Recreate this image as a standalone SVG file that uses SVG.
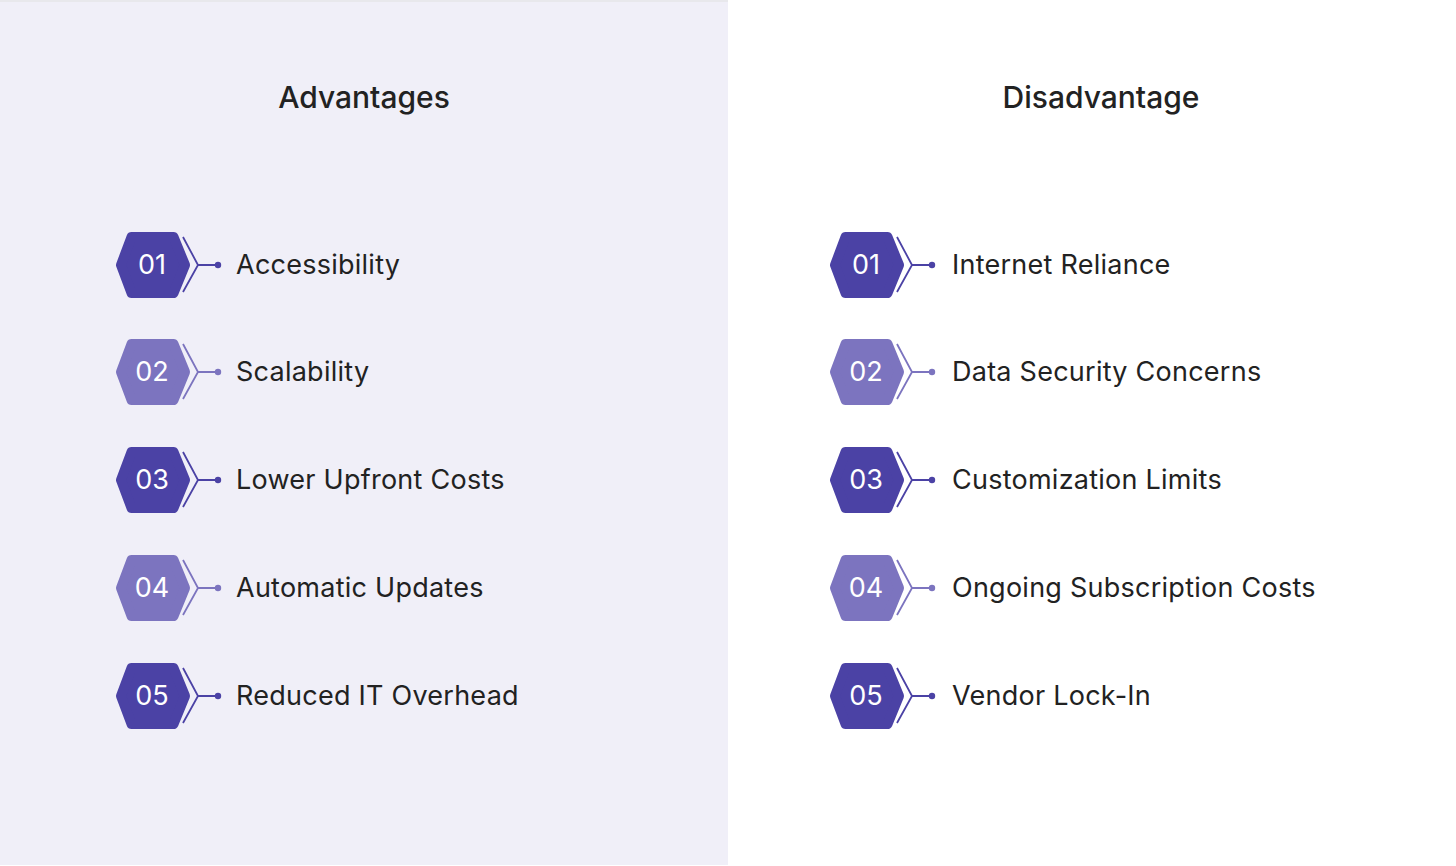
<svg xmlns="http://www.w3.org/2000/svg" width="1456" height="866" viewBox="0 0 1456 866">
<defs>
<style>
.title{font-family:Inter,"Open Sans","Liberation Sans",sans-serif;font-size:30px;font-weight:500;fill:#222;text-anchor:middle}
.lbl{font-family:Inter,"Open Sans","Liberation Sans",sans-serif;font-size:27px;letter-spacing:0.25px;fill:#222}
.num{font-family:Inter,"Open Sans","Liberation Sans",sans-serif;font-size:27px;fill:#fff;text-anchor:middle}
.dk{fill:#4b42a5;stroke:#4b42a5}
.lt{fill:#7c74bf;stroke:#7c74bf}
.hex{stroke-width:10;stroke-linejoin:round}
.chev{fill:none;stroke-width:1.8}
.sd{stroke:#4b42a5}
.sl{stroke:#7c74bf}
</style>
<path id="hx" d="M-32,0 L-21.5,-28 L20.5,-28 L32,0 L20.5,28 L-21.5,28 Z"/>
</defs>
<rect x="0" y="0" width="1456" height="866" fill="#ffffff"/>
<rect x="0" y="2" width="728" height="863" fill="#f0eff8"/>
<rect x="0" y="0" width="728" height="2" fill="#e8e8ec"/>
<text class="title" x="364" y="108">Advantages</text>
<text class="title" x="1101" y="108">Disadvantage</text>

<g id="connectors">
<g class="sd"><path class="chev" d="M183,237 L198,265 L183,292 M198,265 L218,265"/><circle cx="218" cy="265" r="3.2" fill="#4b42a5" stroke="none"/></g>
<g class="sl"><path class="chev" d="M183,344 L198,372 L183,399 M198,372 L218,372"/><circle cx="218" cy="372" r="3.2" fill="#7c74bf" stroke="none"/></g>
<g class="sd"><path class="chev" d="M183,452 L198,480 L183,507 M198,480 L218,480"/><circle cx="218" cy="480" r="3.2" fill="#4b42a5" stroke="none"/></g>
<g class="sl"><path class="chev" d="M183,560 L198,588 L183,615 M198,588 L218,588"/><circle cx="218" cy="588" r="3.2" fill="#7c74bf" stroke="none"/></g>
<g class="sd"><path class="chev" d="M183,668 L198,696 L183,723 M198,696 L218,696"/><circle cx="218" cy="696" r="3.2" fill="#4b42a5" stroke="none"/></g>

<g class="sd"><path class="chev" d="M897,237 L912,265 L897,292 M912,265 L932,265"/><circle cx="932" cy="265" r="3.2" fill="#4b42a5" stroke="none"/></g>
<g class="sl"><path class="chev" d="M897,344 L912,372 L897,399 M912,372 L932,372"/><circle cx="932" cy="372" r="3.2" fill="#7c74bf" stroke="none"/></g>
<g class="sd"><path class="chev" d="M897,452 L912,480 L897,507 M912,480 L932,480"/><circle cx="932" cy="480" r="3.2" fill="#4b42a5" stroke="none"/></g>
<g class="sl"><path class="chev" d="M897,560 L912,588 L897,615 M912,588 L932,588"/><circle cx="932" cy="588" r="3.2" fill="#7c74bf" stroke="none"/></g>
<g class="sd"><path class="chev" d="M897,668 L912,696 L897,723 M912,696 L932,696"/><circle cx="932" cy="696" r="3.2" fill="#4b42a5" stroke="none"/></g>
</g>

<g id="adv-01"><use href="#hx" class="hex dk" x="153" y="265"/><text class="num" x="152" y="274">01</text><text class="lbl" x="236" y="274">Accessibility</text></g>
<g id="adv-02"><use href="#hx" class="hex lt" x="153" y="372"/><text class="num" x="152" y="381">02</text><text class="lbl" x="236" y="381">Scalability</text></g>
<g id="adv-03"><use href="#hx" class="hex dk" x="153" y="480"/><text class="num" x="152" y="489">03</text><text class="lbl" x="236" y="489">Lower Upfront Costs</text></g>
<g id="adv-04"><use href="#hx" class="hex lt" x="153" y="588"/><text class="num" x="152" y="597">04</text><text class="lbl" x="236" y="597">Automatic Updates</text></g>
<g id="adv-05"><use href="#hx" class="hex dk" x="153" y="696"/><text class="num" x="152" y="705">05</text><text class="lbl" x="236" y="705">Reduced IT Overhead</text></g>

<g id="dis-01"><use href="#hx" class="hex dk" x="867" y="265"/><text class="num" x="866" y="274">01</text><text class="lbl" x="952" y="274">Internet Reliance</text></g>
<g id="dis-02"><use href="#hx" class="hex lt" x="867" y="372"/><text class="num" x="866" y="381">02</text><text class="lbl" x="952" y="381">Data Security Concerns</text></g>
<g id="dis-03"><use href="#hx" class="hex dk" x="867" y="480"/><text class="num" x="866" y="489">03</text><text class="lbl" x="952" y="489">Customization Limits</text></g>
<g id="dis-04"><use href="#hx" class="hex lt" x="867" y="588"/><text class="num" x="866" y="597">04</text><text class="lbl" x="952" y="597">Ongoing Subscription Costs</text></g>
<g id="dis-05"><use href="#hx" class="hex dk" x="867" y="696"/><text class="num" x="866" y="705">05</text><text class="lbl" x="952" y="705">Vendor Lock-In</text></g>
</svg>
